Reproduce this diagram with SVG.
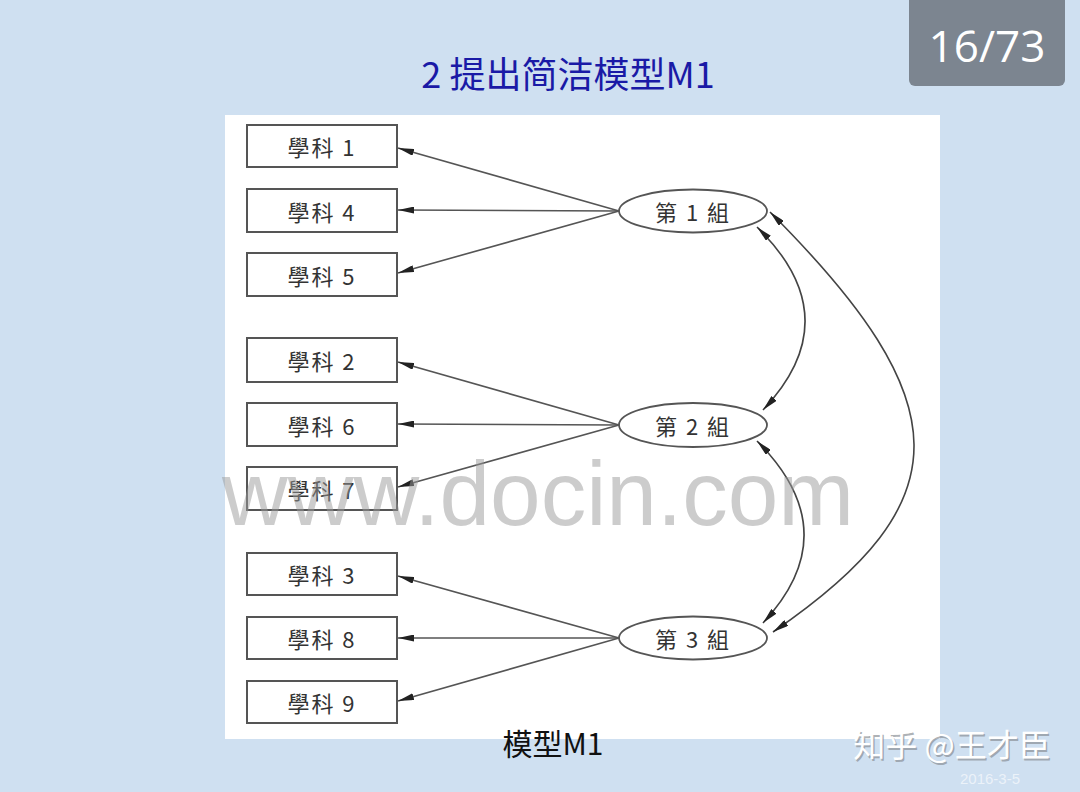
<svg xmlns="http://www.w3.org/2000/svg" width="1080" height="792" viewBox="0 0 1080 792">
<style>
.box{fill:#fff;stroke:#555;stroke-width:2}
.ell{fill:#fff;stroke:#555;stroke-width:1.8}
.lbl{font-family:"Noto Sans CJK TC","Noto Sans CJK SC",sans-serif;font-size:22px;fill:#333;text-anchor:middle;dominant-baseline:central;letter-spacing:2px}
.edge{fill:none;stroke:#555;stroke-width:1.6;marker-end:url(#ah)}
.curve{fill:none;stroke:#444;stroke-width:1.6;marker-start:url(#ah);marker-end:url(#ah)}
</style>
<defs>
<marker id="ah" viewBox="0 0 16 7" refX="16" refY="3.5" markerWidth="16" markerHeight="7" markerUnits="userSpaceOnUse" orient="auto-start-reverse">
<path d="M0,0 L16,3.5 L0,7 z" fill="#222"/>
</marker>
</defs>
<rect x="0" y="0" width="1080" height="792" fill="#cfe0f1"/>
<rect x="225" y="115" width="715" height="624" fill="#ffffff"/>
<g id="title">
<text x="568" y="88" font-family="'Noto Sans CJK SC',sans-serif" font-size="36" fill="#1a1aa6" text-anchor="middle">2 提出简洁模型M1</text>
</g>
<g id="page-badge">
<rect x="909" y="-10" width="156" height="96" rx="6" fill="#7c8590"/>
<text x="987" y="62" font-family="'Open Sans','Noto Sans',sans-serif" font-size="44" fill="#ffffff" text-anchor="middle">16/73</text>
</g>
<g id="connectors">
<line class="edge" x1="619" y1="211" x2="398" y2="148"/>
<line class="edge" x1="619" y1="211" x2="398" y2="210"/>
<line class="edge" x1="619" y1="211" x2="398" y2="273"/>
<line class="edge" x1="619" y1="425" x2="398" y2="362"/>
<line class="edge" x1="619" y1="425" x2="398" y2="424"/>
<line class="edge" x1="619" y1="425" x2="398" y2="487"/>
<line class="edge" x1="619" y1="638" x2="398" y2="576"/>
<line class="edge" x1="619" y1="638" x2="398" y2="638"/>
<line class="edge" x1="619" y1="638" x2="398" y2="701"/>
<path class="curve" d="M757,227 Q850,318 763,410"/>
<path class="curve" d="M757,441 Q848,532 763,623"/>
<path class="curve" d="M770,212 C960,402 963,502 773,632"/>
</g>
<g id="s1"><rect class="box" x="247" y="125" width="150" height="42"/><text class="lbl" x="322" y="146">學科 1</text></g>
<g id="s4"><rect class="box" x="247" y="189" width="150" height="43"/><text class="lbl" x="322" y="210.5">學科 4</text></g>
<g id="s5"><rect class="box" x="247" y="253" width="150" height="43"/><text class="lbl" x="322" y="274.5">學科 5</text></g>
<g id="s2"><rect class="box" x="247" y="338" width="150" height="44"/><text class="lbl" x="322" y="360">學科 2</text></g>
<g id="s6"><rect class="box" x="247" y="403" width="150" height="43"/><text class="lbl" x="322" y="424.5">學科 6</text></g>
<g id="s7"><rect class="box" x="247" y="467" width="150" height="43"/><text class="lbl" x="322" y="488.5">學科 7</text></g>
<g id="s3"><rect class="box" x="247" y="553" width="150" height="42"/><text class="lbl" x="322" y="574">學科 3</text></g>
<g id="s8"><rect class="box" x="247" y="617" width="150" height="42"/><text class="lbl" x="322" y="638">學科 8</text></g>
<g id="s9"><rect class="box" x="247" y="681" width="150" height="42"/><text class="lbl" x="322" y="702">學科 9</text></g>
<g id="g1"><ellipse class="ell" cx="693" cy="211" rx="74" ry="21.5"/><text class="lbl" x="693" y="211">第 1 組</text></g>
<g id="g2"><ellipse class="ell" cx="693" cy="425" rx="74" ry="22"/><text class="lbl" x="693" y="425">第 2 組</text></g>
<g id="g3"><ellipse class="ell" cx="693" cy="638" rx="74" ry="21.5"/><text class="lbl" x="693" y="638">第 3 組</text></g>
<g id="caption">
<text x="553" y="755" font-family="'Noto Sans CJK SC',sans-serif" font-size="30" fill="#111" text-anchor="middle">模型M1</text>
</g>
<g id="watermarks">
<text x="222" y="525" font-family="'Liberation Sans',Arial,sans-serif" font-size="91" fill="#9a9a9a" fill-opacity="0.5">www.docin.com</text>
<text x="990" y="784" font-family="'Liberation Sans',sans-serif" font-size="15" fill="#ffffff" fill-opacity="0.6" text-anchor="middle">2016-3-5</text>
<text x="953.5" y="758.5" font-family="'Noto Sans CJK SC',sans-serif" font-size="32" fill="#8a8f96" fill-opacity="0.7" text-anchor="middle">知乎 @王才臣</text>
<text x="952" y="757" font-family="'Noto Sans CJK SC',sans-serif" font-size="32" fill="#ffffff" text-anchor="middle">知乎 @王才臣</text>
</g>
</svg>
